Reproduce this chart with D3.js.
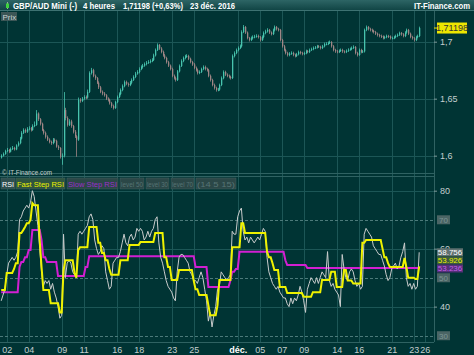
<!DOCTYPE html>
<html>
<head>
<meta charset="utf-8">
<script src="https://cdn.jsdelivr.net/npm/d3@7"></script>
<style>
body{margin:0;background:#003434;}
text{font-family:'Liberation Sans',Arial,sans-serif;}
</style>
</head>
<body>
<svg id="chart"></svg>
<script>
// 4h bars, index counted from Nov 1 00:00 (6 bars a day)
const firstBar = 3;
const firstOpen = 1.5985;
const closes = [
1.6000,1.6015,1.6040,
1.6050,1.6035,1.6060,1.6068,1.6055,1.6090,
1.6110,1.6150,1.6200,1.6225,1.6210,1.6235,
1.6240,1.6225,1.6260,1.6270,1.6370,1.6320,
1.6280,1.6225,1.6200,1.6165,1.6140,1.6120,
1.6110,1.6140,1.6130,1.6080,1.6068,1.5990,
1.6000,1.6400,1.6330,1.6270,1.6300,1.6260,
1.6210,1.6170,1.6140,1.6490,1.6480,1.6500,
1.6515,1.6510,1.6560,1.6725,1.6750,1.6700,
1.6680,1.6640,1.6600,1.6560,1.6545,1.6530,
1.6500,1.6489,1.6460,1.6436,1.6418,1.6470,
1.6515,1.6540,1.6576,1.6610,1.6646,1.6630,
1.6620,1.6640,1.6664,1.6690,1.6720,1.6734,
1.6760,1.6778,1.6790,1.6804,1.6815,1.6822,
1.6830,1.6839,1.6880,1.6927,1.6971,1.6940,
1.6910,1.6880,1.6857,1.6820,1.6790,1.6760,
1.6700,1.6680,1.6664,1.6740,1.6787,1.6830,
1.6857,1.6870,1.6874,1.6850,1.6822,1.6800,
1.6770,1.6750,1.6725,1.6734,1.6760,1.6778,
1.6760,1.6750,1.6700,1.6664,1.6620,1.6594,
1.6576,1.6580,1.6620,1.6680,1.6734,1.6710,
1.6700,1.6690,1.6681,1.6874,1.6900,1.6927,
1.6945,1.6960,1.7085,1.7129,1.7080,1.7032,
1.7015,1.7030,1.7041,1.7045,1.7050,1.7040,
1.7015,1.7040,1.7076,1.7090,1.7103,1.7080,
1.7067,1.7100,1.7129,1.7110,1.7103,1.7015,
1.6960,1.6927,1.6900,1.6883,1.6895,1.6900,
1.6885,1.6874,1.6890,1.6910,1.6900,1.6892,
1.6900,1.6918,1.6910,1.6927,1.6935,1.6945,
1.6950,1.6960,1.6955,1.6945,1.6960,1.6980,
1.6980,1.6990,1.6997,1.6960,1.6927,1.6915,
1.6910,1.6920,1.6927,1.6915,1.6910,1.6920,
1.6930,1.6936,1.6945,1.6954,1.6900,1.6883,
1.6927,1.6910,1.6915,1.7103,1.7129,1.7110,
1.7103,1.7095,1.7085,1.7070,1.7059,1.7050,
1.7045,1.7032,1.7040,1.7050,1.7045,1.7032,
1.7032,1.7040,1.7050,1.7060,1.7076,1.7065,
1.7050,1.7080,1.7103,1.7070,1.7041,1.7030,
1.7015,1.7040,1.7050,1.71198];
const highs = [
1.6012,1.6028,1.6052,
1.6068,1.6060,1.6072,1.6085,1.6078,1.6100,
1.6125,1.6165,1.6215,1.6240,1.6238,1.6250,
1.6258,1.6252,1.6275,1.6300,1.6400,1.6380,
1.6330,1.6290,1.6235,1.6212,1.6178,1.6152,
1.6132,1.6155,1.6152,1.6140,1.6092,1.6075,
1.6020,1.6558,1.6420,1.6345,1.6320,1.6315,
1.6270,1.6225,1.6180,1.6510,1.6505,1.6515,
1.6530,1.6528,1.6580,1.6740,1.6770,1.6762,
1.6712,1.6690,1.6652,1.6612,1.6572,1.6558,
1.6540,1.6512,1.6500,1.6472,1.6448,1.6482,
1.6528,1.6555,1.6590,1.6625,1.6660,1.6658,
1.6642,1.6655,1.6678,1.6705,1.6735,1.6750,
1.6775,1.6792,1.6805,1.6818,1.6830,1.6838,
1.6845,1.6855,1.6895,1.6940,1.6985,1.6980,
1.6952,1.6922,1.6892,1.6868,1.6832,1.6800,
1.6772,1.6712,1.6692,1.6752,1.6800,1.6845,
1.6870,1.6885,1.6890,1.6885,1.6860,1.6832,
1.6812,1.6782,1.6762,1.6748,1.6772,1.6792,
1.6790,1.6772,1.6762,1.6712,1.6675,1.6632,
1.6605,1.6595,1.6632,1.6695,1.6748,1.6745,
1.6722,1.6712,1.6702,1.6888,1.6915,1.6940,
1.6958,1.6975,1.7100,1.7146,1.7138,1.7090,
1.7042,1.7045,1.7055,1.7060,1.7065,1.7062,
1.7050,1.7055,1.7090,1.7105,1.7118,1.7112,
1.7090,1.7115,1.7142,1.7138,1.7122,1.7112,
1.7025,1.6972,1.6938,1.6912,1.6908,1.6915,
1.6912,1.6895,1.6902,1.6922,1.6920,1.6912,
1.6912,1.6930,1.6928,1.6940,1.6948,1.6958,
1.6962,1.6972,1.6970,1.6965,1.6972,1.6992,
1.6995,1.7002,1.7010,1.7005,1.6970,1.6938,
1.6928,1.6932,1.6940,1.6938,1.6925,1.6932,
1.6942,1.6948,1.6958,1.6968,1.6962,1.6912,
1.6940,1.6938,1.6928,1.7115,1.7142,1.7138,
1.7122,1.7115,1.7105,1.7095,1.7080,1.7070,
1.7062,1.7055,1.7052,1.7062,1.7060,1.7055,
1.7045,1.7052,1.7062,1.7072,1.7088,1.7085,
1.7075,1.7092,1.7115,1.7112,1.7080,1.7052,
1.7040,1.7052,1.7062,1.7132];
const lows = [
1.5975,1.5992,1.6008,
1.6030,1.6022,1.6028,1.6050,1.6045,1.6048,
1.6080,1.6100,1.6142,1.6190,1.6198,1.6200,
1.6222,1.6212,1.6218,1.6250,1.6262,1.6305,
1.6265,1.6215,1.6185,1.6150,1.6128,1.6108,
1.6095,1.6100,1.6115,1.6070,1.6050,1.5975,
1.5920,1.5985,1.6310,1.6255,1.6260,1.6245,
1.6195,1.6155,1.5990,1.6130,1.6465,1.6470,
1.6490,1.6495,1.6500,1.6550,1.6712,1.6688,
1.6665,1.6628,1.6585,1.6548,1.6530,1.6518,
1.6488,1.6475,1.6448,1.6420,1.6405,1.6410,
1.6460,1.6505,1.6530,1.6565,1.6600,1.6618,
1.6605,1.6610,1.6630,1.6655,1.6680,1.6710,
1.6722,1.6750,1.6765,1.6780,1.6792,1.6805,
1.6810,1.6820,1.6830,1.6870,1.6918,1.6928,
1.6898,1.6868,1.6845,1.6808,1.6778,1.6748,
1.6688,1.6668,1.6650,1.6655,1.6730,1.6778,
1.6820,1.6845,1.6860,1.6838,1.6810,1.6788,
1.6758,1.6738,1.6712,1.6715,1.6725,1.6750,
1.6748,1.6738,1.6688,1.6650,1.6608,1.6580,
1.6562,1.6565,1.6570,1.6610,1.6670,1.6698,
1.6688,1.6678,1.6668,1.6672,1.6862,1.6890,
1.6915,1.6935,1.6950,1.7075,1.7068,1.7020,
1.7002,1.7005,1.7020,1.7030,1.7035,1.7028,
1.7002,1.7005,1.7030,1.7065,1.7080,1.7068,
1.7055,1.7058,1.7090,1.7098,1.7090,1.7002,
1.6948,1.6915,1.6888,1.6870,1.6872,1.6885,
1.6872,1.6862,1.6865,1.6880,1.6888,1.6880,
1.6882,1.6890,1.6898,1.6900,1.6918,1.6925,
1.6935,1.6940,1.6945,1.6932,1.6935,1.6950,
1.6968,1.6970,1.6980,1.6948,1.6915,1.6902,
1.6898,1.6900,1.6910,1.6902,1.6898,1.6900,
1.6910,1.6920,1.6925,1.6935,1.6888,1.6870,
1.6875,1.6898,1.6900,1.6905,1.7092,1.7098,
1.7090,1.7082,1.7072,1.7058,1.7045,1.7038,
1.7032,1.7020,1.7022,1.7030,1.7032,1.7020,
1.7020,1.7022,1.7030,1.7040,1.7050,1.7052,
1.7038,1.7040,1.7070,1.7058,1.7030,1.7018,
1.7002,1.7005,1.7030,1.7040];
const rsi = [
42,44,46,
51,55,56,57,56,57,
59,70,71,73,74,75,
74,76,80,78,73,68,
60,52,47,49,48,49,
46,48,45,43,40,36,
37,65,50,55,56,55,
52,51,50,65,66,65,
66,67,68,71,72,70,
63,60,58,59,61,60,
52,49,46,47,55,56,
57,57,59,62,65,62,
61,64,65,63,64,67,
66,67,66,63,64,66,
64,66,67,70,71,62,
57,55,52,49,47,46,
45,43,42,52,57,58,
58,57,56,55,52,51,
49,49,48,50,52,50,
46,42,35,38,33,37,
40,46,47,52,51,50,
49,50,51,66,65,65,
71,73,74,66,63,64,
62,64,63,62,63,64,
63,65,67,66,57,52,
50,48,47,46,47,45,
44,43,43,41,40,43,
41,43,42,44,47,45,
42,38,46,48,50,49,
48,50,48,50,52,51,
50,59,49,47,48,46,
45,44,40,58,53,50,
49,52,53,52,49,47,
48,46,47,65,67,66,
65,64,61,60,59,58,
58,56,54,51,49,50,
53,54,55,53,54,57,
59,62,50,47,48,46,
48,46,47,58.756];
const fastStep = [
45.7,45.7,45.7,
51.6,51.6,51.6,51.6,53,55,
55,65.4,65.4,66.4,67.5,68.8,
68.8,70,75.7,75,75,75,
63,53.7,45.7,45.7,45.7,45.7,
41.2,41.2,41.2,41.2,41.2,38,
38,52.6,56,56,56,56,
56,51.6,50,59.5,60.5,60.5,
60.5,60.5,60.5,67.5,67.5,67.5,
67.5,67.5,62,62,58.5,58.5,
56,56,53,51,51,51,
51,51,56,56,56,56,
56,61.3,61.3,61.3,61.3,61.3,
61.3,62.3,62.3,62.3,62.3,62.3,
62.3,62.3,62.3,65.4,65.4,65.4,
65.4,65.4,57,57,53.7,53.7,
49.2,49.2,49.2,49.2,52.6,52.6,
52.6,52.6,52.6,52.6,52.6,52.6,
49,46,46,44,44,44,
44,44,40.5,37,37,37,
37,40.5,49.2,49.2,49.2,49.2,
49.2,49.2,49.2,60.5,60.5,60.5,
60.5,60.5,68.8,68.8,65.4,65.4,
65.4,65.4,65.4,65.4,65.4,65.4,
65.4,65.4,65.4,65.4,59,57,
57,55,52.6,52.6,52.6,46.8,
46.8,46.8,46.8,44.7,44.7,44.7,
44.7,44.7,44.7,44.7,44.7,44.7,
43.4,43.4,43.4,43.4,43.4,45,
45,45,45,45,49.2,49.2,
49.2,49.2,49.2,52,52,52,
46.8,46.8,46.8,46.8,52.6,52.6,
49,49,49,48,48,48,
48,48,62,62,63,63,
63,63,63,63,63,63,
63,60,57,57,55,53.7,
53.7,53.7,53.7,53.7,53.7,53.7,
53.7,56.8,53.7,50,50,50,
50,49.5,49.5,53.926];
const slowStep = [
45,45,45,
45,45,45,45,45,45,
45,53.7,55.4,55.4,57,57,
59.5,59.5,66.4,66.4,66.4,66.4,
66.4,63,57,57,55.4,55.4,
55.4,55.4,55.4,55.4,50.6,50.6,
50.6,50.6,50.6,50.6,50.6,50.6,
50.6,50.6,50.6,50.6,50.6,50.6,
50.6,53.7,53.7,57.4,57.4,57.4,
57.4,57.4,57.4,57.4,57.4,57.4,
57.4,57.4,57.4,57.4,57.4,57.4,
57.4,57.4,57.4,57.4,57.4,57.4,
57.4,57.4,57.4,57.4,57.4,57.4,
57.4,57.4,57.4,57.4,57.4,57.4,
57.4,57.4,57.4,57.4,57.4,57.4,
57.4,57.4,57.4,57.4,57.4,57.4,
57.4,57.4,57.4,57.4,57.4,57.4,
57.4,57.4,57.4,57.4,57.4,57.4,
57.4,53.7,53.7,53.7,53.7,53.7,
53.7,53.7,46.8,46.8,46.8,46.8,
46.8,46.8,46.8,46.8,46.8,46.8,
46.8,46.8,49,52,52,53,
53,58.9,58.9,58.9,58.9,58.9,
58.9,58.9,58.9,58.9,58.9,58.9,
58.9,58.9,58.9,58.9,58.9,58.9,
58.9,58.9,58.9,58.9,58.9,58.9,
58.9,58.9,56,54.4,54.4,54.4,
54.4,54.4,54.4,54.4,54.4,54.4,
54.4,54.4,53.3,53.3,53.3,53.3,
53.3,53.3,53.3,53.3,53.3,53.3,
53.3,53.3,53.3,53.3,53.3,53.3,
53.3,53.3,53.3,53.3,53.3,53.3,
53.3,53.3,53.3,53.3,53.3,53.3,
53.3,53.3,53.3,53.3,53.3,53.3,
53.3,53.3,53.3,53.3,53.3,53.3,
53.3,53.3,53.3,53.3,53.3,53.3,
53.3,53.3,53.3,53.3,53.3,53.3,
53.3,53.3,53.3,53.3,53.3,53.3,
53.3,53.3,53.3,53.236];

// trading-day index (from Nov 1) of each date label
const tickDays = [1,3,6,8,11,13,16,18,22,24,26,28,31,33,36,38,39];
const tickLabels = ['02','04','09','11','16','18','23','25','déc.','05','07','09','14','16','21','23','26'];
const priceTicks = [1.6, 1.65, 1.7];
const rsiTicks = [80, 60, 40];
const rsiLevels = [70, 50, 30];

const W = 474, H = 355, plotR = 434;
const bg = '#003434', grid = '#1c5656', axisTxt = '#c3cfcf';
const narrow = "'Liberation Sans Narrow','Liberation Sans',Arial,sans-serif";

const svg = d3.select('#chart').attr('width', W).attr('height', H);
svg.append('rect').attr('width', W).attr('height', H).attr('fill', bg);

// scales
const x = d3.scaleLinear().domain([0, 234]).range([-4.3, 424.7]);
const yP = d3.scaleLinear().domain([1.5848, 1.7278]).range([173, 10]);
const yR = d3.scaleLinear().domain([27.8, 85.07]).range([342, 176]);

const defs = svg.append('defs');
defs.append('clipPath').attr('id', 'clipTop').append('rect')
  .attr('x', 0).attr('y', 10).attr('width', plotR).attr('height', 163);
defs.append('clipPath').attr('id', 'clipBot').append('rect')
  .attr('x', 0).attr('y', 176).attr('width', plotR).attr('height', 166);
const hg = defs.append('linearGradient').attr('id', 'hdr').attr('x1', 0).attr('x2', 0).attr('y1', 0).attr('y2', 1);
hg.append('stop').attr('offset', 0).attr('stop-color', '#2d6565');
hg.append('stop').attr('offset', 1).attr('stop-color', '#114545');

// grid
const vx = d => Math.round(x(d * 6)) + 0.5;
svg.append('g').selectAll('line').data(tickDays).join('line')
  .attr('x1', vx).attr('x2', vx).attr('y1', 10).attr('y2', 342)
  .attr('stroke', grid).attr('stroke-width', 1);
svg.append('g').selectAll('line').data(priceTicks).join('line')
  .attr('x1', 0).attr('x2', plotR).attr('y1', d => Math.round(yP(d)) + 0.5).attr('y2', d => Math.round(yP(d)) + 0.5)
  .attr('stroke', grid);
svg.append('g').selectAll('line').data(rsiTicks).join('line')
  .attr('x1', 0).attr('x2', plotR).attr('y1', d => Math.round(yR(d)) + 0.5).attr('y2', d => Math.round(yR(d)) + 0.5)
  .attr('stroke', grid);
svg.append('g').selectAll('line').data(rsiLevels).join('line')
  .attr('x1', 0).attr('x2', plotR).attr('y1', d => Math.round(yR(d)) + 0.5).attr('y2', d => Math.round(yR(d)) + 0.5)
  .attr('stroke', '#4c7a7a').attr('stroke-dasharray', '3,2');

// panel borders
svg.append('line').attr('x1', plotR + 0.5).attr('x2', plotR + 0.5).attr('y1', 10).attr('y2', 342).attr('stroke', '#2f6262');
svg.append('line').attr('x1', 0).attr('x2', plotR).attr('y1', 173.5).attr('y2', 173.5).attr('stroke', '#2f6262');
svg.append('line').attr('x1', 0).attr('x2', plotR).attr('y1', 176.5).attr('y2', 176.5).attr('stroke', '#2f6262');
svg.append('line').attr('x1', 0).attr('x2', plotR).attr('y1', 342.5).attr('y2', 342.5).attr('stroke', '#2f6262');

// candles
const bars = closes.map((c, i) => ({
  i: firstBar + i, o: i ? closes[i - 1] : firstOpen, h: highs[i], l: lows[i], c
}));
const up = '#48c4ae', down = '#a08686';
const cg = svg.append('g').attr('clip-path', 'url(#clipTop)');
cg.selectAll('.wick').data(bars).join('line').attr('class', 'wick')
  .attr('x1', d => Math.round(x(d.i)) + 0.5).attr('x2', d => Math.round(x(d.i)) + 0.5)
  .attr('y1', d => yP(d.h)).attr('y2', d => yP(d.l))
  .attr('stroke', d => d.c >= d.o ? up : down).attr('stroke-width', 1).attr('opacity', 0.8);
cg.selectAll('.body').data(bars).join('rect').attr('class', 'body')
  .attr('x', d => Math.round(x(d.i)))
  .attr('y', d => yP(Math.max(d.o, d.c)))
  .attr('width', 1.3)
  .attr('height', d => Math.max(1, Math.abs(yP(d.o) - yP(d.c))))
  .attr('fill', d => d.c >= d.o ? up : down);

// RSI lines
const line = d3.line().x((d, i) => x(firstBar + i)).y(d => yR(d));
const lg = svg.append('g').attr('clip-path', 'url(#clipBot)');
lg.append('path').datum(slowStep).attr('d', line).attr('fill', 'none').attr('stroke', '#d21fd2').attr('stroke-width', 2);
lg.append('path').datum(rsi).attr('d', line).attr('fill', 'none').attr('stroke', '#c9cccc').attr('stroke-width', 1);
lg.append('path').datum(fastStep).attr('d', line).attr('fill', 'none').attr('stroke', '#eef200').attr('stroke-width', 2);

// right axes
const fmtComma = d => String(d).replace('.', ',');
const pAxis = svg.append('g').attr('transform', `translate(${plotR},0)`)
  .call(d3.axisRight(yP).tickValues(priceTicks).tickFormat(fmtComma).tickSize(3).tickPadding(3));
const rAxis = svg.append('g').attr('transform', `translate(${plotR},0)`)
  .call(d3.axisRight(yR).tickValues(rsiTicks).tickSize(3).tickPadding(3));
[pAxis, rAxis].forEach(a => {
  a.select('.domain').remove();
  a.selectAll('line').attr('stroke', '#7d9999');
  a.selectAll('text').attr('fill', axisTxt).style('font-size', '9px').style('font-family', "'Liberation Sans',Arial,sans-serif");
});

// level boxes 70 / 50 / 30
const lv = svg.append('g').selectAll('g').data(rsiLevels).join('g')
  .attr('transform', d => `translate(437,${yR(d)})`);
lv.append('rect').attr('x', 0).attr('y', -4.4).attr('width', 13).attr('height', 9).attr('fill', '#4b6565');
lv.append('text').attr('x', 6.5).attr('y', 3).attr('text-anchor', 'middle')
  .attr('fill', '#7b9595').style('font-size', '8px').text(d => d);

// bottom date axis
const xAxis = svg.append('g').attr('transform', 'translate(0,342)')
  .call(d3.axisBottom(x).tickValues(tickDays.map(d => d * 6)).tickFormat((d, i) => tickLabels[i]).tickSize(0).tickPadding(5));
xAxis.select('.domain').remove();
xAxis.selectAll('text').attr('fill', axisTxt).style('font-size', '9px')
  .style('font-family', "'Liberation Sans',Arial,sans-serif")
  .filter((d, i) => tickLabels[i] === 'déc.').attr('fill', '#ffffff').style('font-weight', 'bold');

// current price label
const last = closes[closes.length - 1];
svg.append('rect').attr('x', 437).attr('y', yP(last) - 5.5).attr('width', 30).attr('height', 11).attr('fill', '#eee600');
svg.append('text').attr('x', 452).attr('y', yP(last) + 3.3).attr('text-anchor', 'middle')
  .attr('fill', '#333').style('font-size', '9px').text(d3.format('.5f')(last).replace('.', ','));
svg.append('line').attr('x1', plotR).attr('x2', 437).attr('y1', yP(last)).attr('y2', yP(last)).attr('stroke', '#eee600');

// RSI value labels (stacked)
const y0 = yR(rsi[rsi.length - 1]);
const valueTags = [
  {v: rsi[rsi.length - 1], y: y0, fill: '#5f7171', col: '#ffffff'},
  {v: fastStep[fastStep.length - 1], y: y0 + 8.1, fill: '#3b5b40', col: '#eef200'},
  {v: slowStep[slowStep.length - 1], y: y0 + 16.2, fill: '#56307a', col: '#c55ee8'}
];
const vt = svg.append('g').selectAll('g').data(valueTags).join('g').attr('transform', d => `translate(437,${d.y})`);
vt.append('rect').attr('y', -4).attr('width', 26).attr('height', 8).attr('fill', d => d.fill);
vt.append('text').attr('x', 13).attr('y', 3).attr('text-anchor', 'middle').attr('fill', d => d.col)
  .style('font-size', '8px').text(d => d3.format('.3f')(d.v));

// header
svg.append('rect').attr('width', W).attr('height', 10).attr('fill', 'url(#hdr)');
svg.append('line').attr('x1', 0).attr('x2', W).attr('y1', 10.5).attr('y2', 10.5).attr('stroke', '#3d7272');
svg.append('line').attr('x1', 7.5).attr('x2', 7.5).attr('y1', 2).attr('y2', 9).attr('stroke', '#9aaa9a');
svg.append('rect').attr('x', 6).attr('y', 3.5).attr('width', 3).attr('height', 4.5).attr('fill', '#3ed43e');
const header = [
  {t: 'GBP/AUD Mini (-)', x: 13, w: 64, a: 'start'},
  {t: '4 heures', x: 83, w: 32, a: 'start'},
  {t: '1,71198 (+0,63%)', x: 123, w: 60, a: 'start'},
  {t: '23 déc. 2016', x: 190, w: 45, a: 'start'},
  {t: 'IT-Finance.com', x: 470, w: 56, a: 'end'}
];
svg.append('g').selectAll('text').data(header).join('text')
  .attr('x', d => d.x).attr('y', 8.8).attr('text-anchor', d => d.a)
  .attr('textLength', d => d.w).attr('lengthAdjust', 'spacingAndGlyphs')
  .attr('fill', '#ffffff').style('font-size', '8.8px').style('font-weight', 'bold')
  .style('font-family', narrow).text(d => d.t);

// "Prix" tag
svg.append('rect').attr('x', 1).attr('y', 12).attr('width', 16).attr('height', 9).attr('fill', '#3c5656');
svg.append('text').attr('x', 2.5).attr('y', 19.5).attr('fill', '#c8d4d4').style('font-size', '8px').text('Prix');

// copyright
svg.append('text').attr('x', 2).attr('y', 175).attr('textLength', 50).attr('lengthAdjust', 'spacingAndGlyphs')
  .attr('fill', '#c0cccc').style('font-size', '7.5px').style('font-family', narrow).text('© IT-Finance.com');

// legend
const legend = [
  {t: 'RSI', x: 1, w: 14, col: '#ffffff', fill: '#2f4f4f'},
  {t: 'Fast Step RSI', x: 16, w: 49, col: '#eef200', fill: '#2f553f'},
  {t: 'Slow Step RSI', x: 67, w: 51, col: '#9a2fc8', fill: '#2b4747'},
  {t: 'level 50', x: 120, w: 24, col: '#567474', fill: '#2b4747'},
  {t: 'level 30', x: 146, w: 23, col: '#567474', fill: '#2b4747'},
  {t: 'level 70', x: 171, w: 23, col: '#567474', fill: '#2b4747'},
  {t: '(14 5 15)', x: 196, w: 40, col: '#567474', fill: '#2b4747'}
];
const lgd = svg.append('g').selectAll('g').data(legend).join('g');
lgd.append('rect').attr('x', d => d.x).attr('y', 178).attr('width', d => d.w).attr('height', 11)
  .attr('fill', d => d.fill).attr('stroke', '#3f6060').attr('stroke-width', 0.6);
lgd.append('text').attr('x', d => d.x + d.w / 2).attr('y', 186.6).attr('text-anchor', 'middle')
  .attr('textLength', d => d.w - 2).attr('lengthAdjust', 'spacingAndGlyphs')
  .attr('fill', d => d.col).style('font-size', '8px').style('font-family', narrow).text(d => d.t);
</script>
</body>
</html>
